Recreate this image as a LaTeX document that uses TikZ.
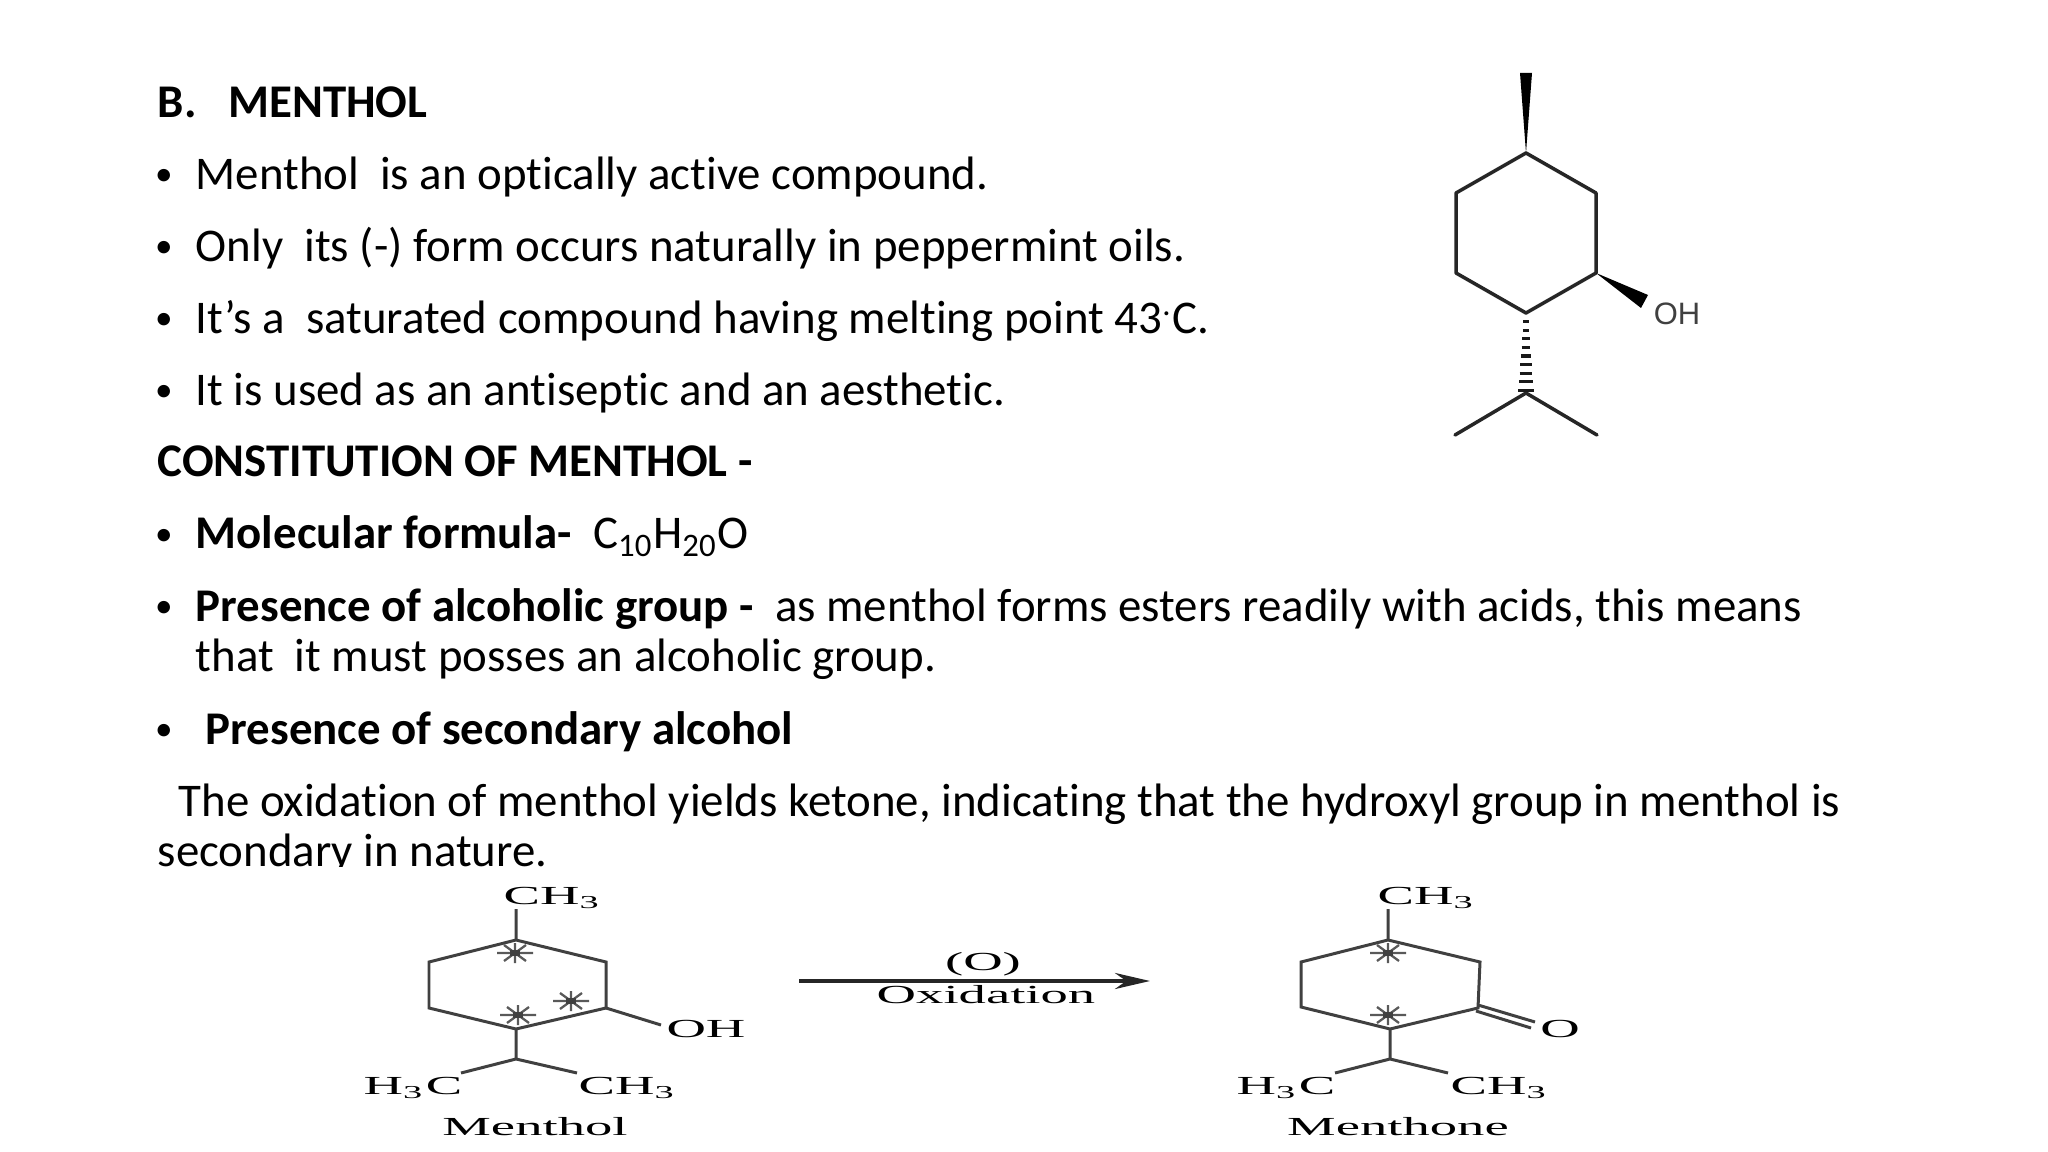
\documentclass[tikz,border=0pt]{standalone}
\usepackage{fontspec}
\setmainfont{Carlito}[Ligatures=NoCommon]
\newfontfamily\chemserif{Liberation Serif}
\newfontfamily\chemsans{Liberation Sans}
\usetikzlibrary{calc}
\usetikzlibrary{arrows.meta}
\tikzset{
 bodytext/.style={anchor=base west, inner sep=0, font=\fontsize{13.33}{16}\selectfont},
 bulletmark/.style={anchor=base, inner sep=0, font=\fontsize{10}{12}\selectfont},
 bond/.style={black!85, line width=1pt, line cap=round},
 oldbond/.style={black!75, line width=.85pt},
 oldlabel/.style={inner sep=0, black, font=\chemserif\fontsize{7.4}{9}\selectfont, xscale=2.1, transform shape},
 starline/.style={black!65, line width=.65pt}
}
\begin{document}
\begin{tikzpicture}[x=.01cm, y=-.01cm]
\useasboundingbox (0,0) rectangle (2048,1152);
% slide text
\node[bodytext] (title) at (157,118) {\textbf{B.\ \ \ MENTHOL}};
\foreach \y/\t in {190/{Menthol\ \ is an optically active compound.},
 262/{Only\ \ its (-) form occurs naturally in peppermint oils.},
 334/{It’s a\ \ saturated compound having melting point 43\textsuperscript{.}C.},
 406/{It is used as an antiseptic and an aesthetic.},
 549/{\textbf{Molecular formula-}\ \ C\textsubscript{10}H\textsubscript{20}O},
 621/{\textbf{Presence of alcoholic group -}\ \ as menthol forms esters readily with acids, this means}} {
 \node[bulletmark] (bullet\y) at (164,\y-4) {•};
 \node[bodytext] (line\y) at (195,\y) {\t};
}
\node[bodytext] (constitution) at (157,477) {\textbf{CONSTITUTION OF MENTHOL -}};
\node[bodytext] (line672) at (195,672) {that\ \ it must posses an alcoholic group.};
\node[bulletmark] (bullet744) at (164,740) {•};
\node[bodytext] (line744) at (205,744) {\textbf{Presence of secondary alcohol}};
\node[bodytext] (line816) at (178,816) {The oxidation of menthol yields ketone, indicating that the hydroxyl group in menthol is};
\node[bodytext] (line866) at (157,866) {secondary in nature.};
\fill[white] (150,867) rectangle (700,900);
% menthol, upper right
\foreach \n/\x/\y in {ra/1526/153, rb/1596/193, rc/1596/273, rd/1526/313, re/1456/273, rf/1456/193,
 iso/1526/393, isol/1455/435, isor/1597/435} {
 \coordinate (\n) at (\x,\y);
}
\draw[bond, line join=round] (ra)--(rb)--(rc)--(rd)--(re)--(rf)--cycle;
\draw[bond] (isol)--(iso)--(isor);
\fill[black] (ra) -- (1520,73) -- (1532,73) -- cycle;
\fill[black] (rc) -- (1648,295) -- (1641,308) -- cycle;
\foreach \k [evaluate=\k as \w using 2+.62*\k] in {1,...,9} {
 \draw[black!90, line width=.95pt] ($(rd)!\k/9.3!(iso)+(-\w,0)$) --++(2*\w,0);
}
\node[inner sep=0, black!75, font=\chemsans\fontsize{8.8}{10}\selectfont] (ohtop) at (1677,314) {OH};
% reaction
\foreach \n/\x/\y in {ma/516/940, mb/606/962, mc/606/1008, md/516/1029, me/429/1008, mf/429/962,
 mtop/516/909, miso/516/1059, misol/461/1073, misor/577/1073, moh/661/1025,
 na/1388/940, nb/1480/962, nc/1478/1008, nd/1390/1029, ne/1301/1007, nf/1301/962,
 ntop/1388/909, niso/1390/1059, nisol/1335/1073, nisor/1448/1073} {
 \coordinate (\n) at (\x,\y);
}
\draw[oldbond] (ma)--(mb)--(mc)--(md)--(me)--(mf)--cycle;
\draw[oldbond] (mtop)--(ma) (md)--(miso) (misol)--(miso)--(misor) (mc)--(moh);
\draw[oldbond] (na)--(nb)--(nc)--(nd)--(ne)--(nf)--cycle;
\draw[oldbond] (ntop)--(na) (nd)--(niso) (nisol)--(niso)--(nisor);
\draw[oldbond] (1478,1005)--(1535,1022) (1476,1011)--(1531,1028);
\foreach \x/\y in {515/953, 518/1015, 571/1001, 1388/953, 1388/1015} {
 \draw[starline] (\x-18,\y)--(\x+18,\y) (\x,\y-10)--(\x,\y+10) (\x-11,\y-8)--(\x+11,\y+8) (\x-11,\y+8)--(\x+11,\y-8);
 \fill[black!75] (\x-5,\y-3) rectangle (\x+5,\y+3);
}
\node[oldlabel] (mch3) at (553,898) {CH\textsubscript{3}};
\node[oldlabel] (mohlabel) at (706,1029) {OH};
\node[oldlabel] (mh3c) at (413,1088) {H\textsubscript{3}C};
\node[oldlabel] (mch3r) at (628,1088) {CH\textsubscript{3}};
\node[oldlabel] (menthol) at (535,1127) {Menthol};
\node[oldlabel] (nch3) at (1427,898) {CH\textsubscript{3}};
\node[oldlabel] (nox) at (1560,1029) {O};
\node[oldlabel] (nh3c) at (1286,1088) {H\textsubscript{3}C};
\node[oldlabel] (nch3r) at (1500,1088) {CH\textsubscript{3}};
\node[oldlabel] (menthone) at (1398,1127) {Menthone};
\coordinate (arrowa) at (799,981);
\coordinate (arrowb) at (1150,981);
\draw[black!85, line width=.95pt, -{Stealth[length=10pt,width=4.6pt]}] (arrowa)--(arrowb);
\node[oldlabel] (oxygen) at (983,964) {(O)};
\node[oldlabel] (oxidation) at (986,995) {Oxidation};
\end{tikzpicture}
\end{document}
